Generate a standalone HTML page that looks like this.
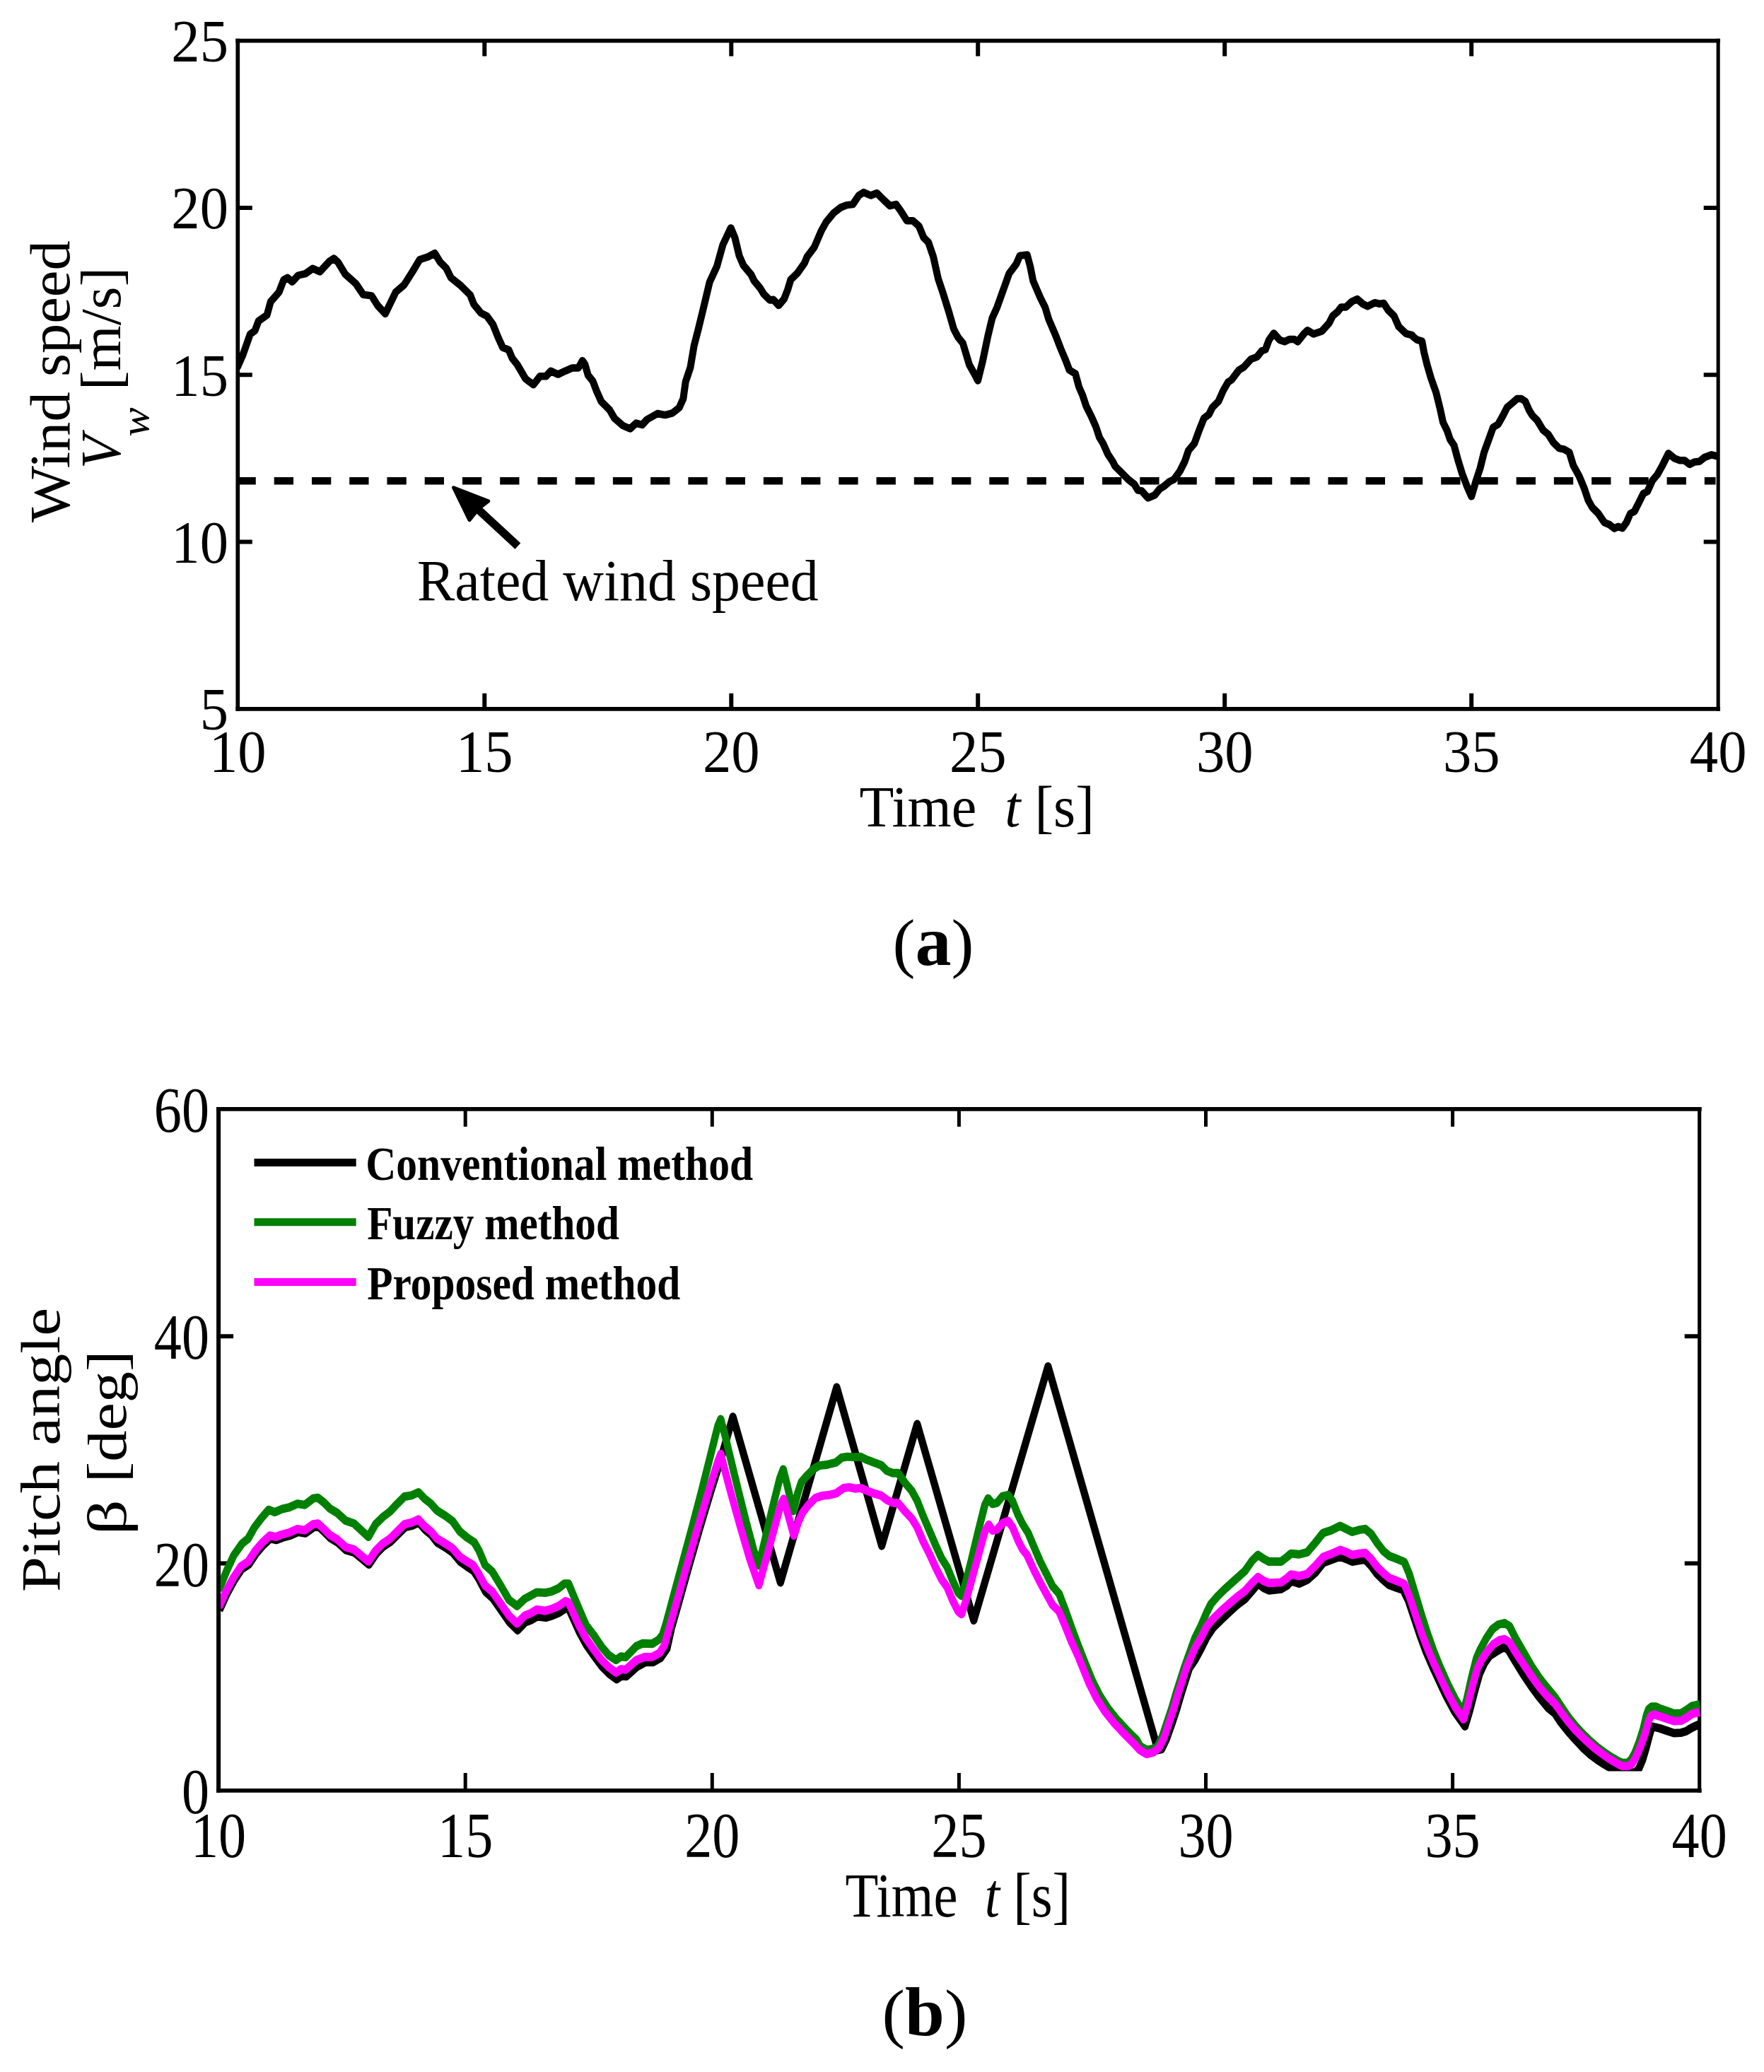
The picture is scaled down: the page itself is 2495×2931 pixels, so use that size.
<!DOCTYPE html>
<html lang="en"><head><meta charset="utf-8"><title>Wind speed and pitch angle</title>
<style>html,body{margin:0;padding:0;background:#fff}svg{display:block}</style>
</head><body>
<svg width="2495" height="2931" viewBox="0 0 2495 2931" font-family="'Liberation Serif', 'Times New Roman', serif" fill="#000">
<rect width="2495" height="2931" fill="#fff"/>
<defs>
<clipPath id="c1"><rect x="336.3" y="57.6" width="2093.9" height="945.2"/></clipPath>
<clipPath id="c2"><rect x="312.1" y="1568.9" width="2094.6" height="936.6"/></clipPath>
</defs>
<g id="chart-a">
<g clip-path="url(#c1)">
<line x1="334.5" y1="680.3" x2="2426.5" y2="680.3" stroke="#000" stroke-width="10.6" stroke-dasharray="27.3 25.94"/>
<polyline points="346.3,522.1 352.0,518.7 359.8,501.7 370.5,472.8 377.6,467.7 382.9,454.1 395.4,445.6 400.8,426.9 413.2,413.3 420.3,395.6 425.7,392.9 432.8,398.6 441.7,389.5 452.4,387.1 463.1,379.9 473.8,384.4 488.0,369.7 494.4,365.6 500.5,370.7 511.2,387.8 527.2,401.4 537.9,416.7 550.3,418.4 559.2,432.0 570.6,443.9 586.0,413.3 598.4,403.1 610.9,384.4 621.6,367.3 634.0,363.3 644.0,358.2 651.9,370.7 660.8,379.3 667.9,392.9 682.1,403.7 696.4,417.3 701.7,430.3 712.4,442.9 721.3,447.3 730.2,459.2 737.3,476.2 744.5,491.5 753.4,494.9 758.7,506.8 765.8,515.3 778.3,535.7 790.0,544.2 799.7,532.3 808.6,532.3 815.7,524.8 826.4,529.6 837.1,524.8 847.7,520.4 856.6,520.4 862.7,510.2 866.3,515.3 870.9,530.6 878.0,539.1 883.4,552.7 890.5,568.0 902.9,579.9 910.1,591.8 922.5,602.0 933.2,606.5 942.1,598.6 951.0,601.0 958.2,593.5 973.8,585.0 985.1,587.1 995.8,584.4 1005.8,576.9 1011.9,563.9 1015.4,540.1 1022.5,519.7 1027.9,489.1 1034.3,465.3 1042.1,434.7 1051.0,399.0 1061.7,376.9 1070.6,346.3 1082.4,322.4 1088.4,336.1 1094.8,361.6 1100.9,375.2 1112.7,388.8 1116.9,397.3 1125.8,407.5 1131.2,416.0 1140.1,424.5 1145.4,423.8 1153.3,432.0 1161.4,422.8 1166.8,409.2 1171.1,395.6 1181.0,386.4 1191.7,371.8 1195.3,363.3 1206.0,349.7 1216.7,325.9 1223.8,313.9 1234.5,301.4 1245.1,293.5 1254.1,290.1 1263.0,289.1 1271.9,276.5 1279.0,272.1 1289.7,276.5 1298.6,273.1 1309.3,283.3 1318.2,291.2 1327.1,289.1 1334.2,298.6 1343.1,312.2 1352.0,312.2 1360.9,319.7 1368.0,336.1 1375.1,342.9 1382.3,363.3 1389.4,393.9 1396.5,414.3 1405.4,441.5 1412.5,465.3 1419.0,477.2 1426.1,485.7 1435.7,516.3 1442.8,528.2 1448.2,538.4 1455.3,511.2 1463.1,475.5 1469.5,450.0 1476.7,434.7 1485.6,410.9 1494.5,387.1 1505.1,373.5 1510.5,361.6 1521.2,360.5 1525.8,376.9 1530.1,397.3 1540.8,421.1 1547.9,434.7 1553.2,451.7 1563.9,475.5 1570.7,492.5 1578.4,509.9 1583.8,523.5 1592.7,528.6 1598.0,547.3 1603.4,559.2 1608.7,574.5 1615.8,588.1 1623.0,603.4 1628.3,618.7 1633.7,627.2 1640.8,642.5 1647.9,652.7 1651.5,659.5 1660.4,668.0 1671.0,678.2 1680.0,685.0 1685.3,693.5 1690.6,694.2 1700.3,704.4 1710.2,700.3 1717.3,691.8 1724.5,687.4 1731.6,681.6 1738.7,678.2 1747.6,666.3 1754.7,652.7 1760.1,637.4 1769.0,627.2 1776.1,608.5 1783.2,591.5 1790.4,586.4 1795.7,576.2 1804.6,567.7 1811.7,552.4 1818.9,540.5 1824.2,537.1 1834.9,523.5 1842.0,519.4 1852.7,508.2 1861.6,504.8 1868.7,496.3 1874.1,494.6 1879.4,481.0 1886.5,471.4 1895.4,481.0 1902.6,483.3 1909.7,479.9 1916.8,479.9 1922.1,483.3 1931.0,472.4 1936.4,467.3 1945.3,472.4 1957.8,468.4 1968.4,457.1 1973.8,446.9 1980.9,441.2 1986.3,434.4 1993.4,434.4 2002.3,426.5 2010.1,423.1 2018.3,429.9 2025.4,433.3 2036.1,428.2 2043.2,429.9 2049.3,428.9 2055.7,438.4 2064.6,446.9 2071.7,462.2 2082.4,471.8 2091.3,474.1 2092.7,476.1 2098.6,480.6 2106.0,482.6 2109.0,498.2 2113.4,515.2 2119.4,535.0 2126.8,554.9 2132.7,577.6 2137.2,597.4 2143.1,608.7 2147.6,621.5 2153.5,630.0 2159.5,651.2 2165.4,669.7 2172.8,688.1 2179.3,702.3 2186.2,679.6 2192.1,662.6 2198.0,639.9 2205.5,620.1 2211.4,604.5 2218.8,600.2 2226.2,587.5 2232.2,576.1 2241.1,569.0 2247.0,563.9 2252.9,563.9 2258.9,567.6 2264.8,580.4 2269.3,587.5 2276.7,594.6 2285.6,608.7 2293.0,614.4 2300.4,625.7 2309.3,634.2 2316.8,635.7 2324.2,639.9 2330.1,658.3 2339.0,673.9 2346.4,690.9 2352.4,707.9 2358.3,717.9 2367.2,726.4 2376.1,739.1 2383.5,742.0 2391.0,747.6 2396.9,744.8 2402.8,747.1 2408.8,739.1 2414.7,726.4 2420.6,723.5 2428.1,709.4 2434.0,698.0 2439.9,695.2 2447.4,679.6 2454.8,671.1 2462.2,658.3 2471.1,641.3 2480.0,648.4 2487.4,651.2 2494.8,651.2 2502.3,656.9 2509.7,653.5 2517.1,652.7 2524.5,647.0 2534.9,643.3 2544.4,645.6" fill="none" stroke="#000" stroke-width="10.5" stroke-linejoin="round" stroke-linecap="butt" transform="scale(0.955,1)"/>
</g>
<path d="M333.45,57.6H2433.05M333.45,1002.8H2433.05" stroke="#000" stroke-width="5.8" fill="none"/>
<path d="M336.3,54.70V1005.70" stroke="#000" stroke-width="5.7" fill="none"/>
<path d="M2430.2,54.70V1005.70" stroke="#000" stroke-width="5.1" fill="none"/>
<path d="M685.3,1002.8v-22M685.3,57.6v22M1034.3,1002.8v-22M1034.3,57.6v22M1383.2,1002.8v-22M1383.2,57.6v22M1732.2,1002.8v-22M1732.2,57.6v22M2081.2,1002.8v-22M2081.2,57.6v22" stroke="#000" stroke-width="6" fill="none"/>
<path d="M336.3,766.5h20.5M2430.2,766.5h-20.5M336.3,530.2h20.5M2430.2,530.2h-20.5M336.3,293.9h20.5M2430.2,293.9h-20.5" stroke="#000" stroke-width="6" fill="none"/>
<line x1="732.4" y1="772.4" x2="674" y2="718.6" stroke="#000" stroke-width="11.5" stroke-linecap="butt"/>
<polygon points="641.6,689.8 690.7,708.9 677,719.5 664,735.6" fill="#000" stroke="#000" stroke-width="5" stroke-linejoin="round"/>
<text transform="translate(282.66,1032.30) scale(0.9492,1)" font-size="85" xml:space="preserve">5</text>
<text transform="translate(242.32,796.00) scale(0.9492,1)" font-size="85" xml:space="preserve">10</text>
<text transform="translate(242.32,559.70) scale(0.9492,1)" font-size="85" xml:space="preserve">15</text>
<text transform="translate(242.32,323.40) scale(0.9492,1)" font-size="85" xml:space="preserve">20</text>
<text transform="translate(242.32,87.10) scale(0.9492,1)" font-size="85" xml:space="preserve">25</text>
<text transform="translate(295.96,1091.50) scale(0.9492,1)" font-size="85" xml:space="preserve">10</text>
<text transform="translate(644.94,1091.50) scale(0.9492,1)" font-size="85" xml:space="preserve">15</text>
<text transform="translate(993.93,1091.50) scale(0.9492,1)" font-size="85" xml:space="preserve">20</text>
<text transform="translate(1342.91,1091.50) scale(0.9492,1)" font-size="85" xml:space="preserve">25</text>
<text transform="translate(1691.89,1091.50) scale(0.9492,1)" font-size="85" xml:space="preserve">30</text>
<text transform="translate(2040.88,1091.50) scale(0.9492,1)" font-size="85" xml:space="preserve">35</text>
<text transform="translate(2389.86,1091.50) scale(0.9492,1)" font-size="85" xml:space="preserve">40</text>
<text transform="translate(590.00,849.40) scale(0.9625,1)" font-size="83" fill="#000" xml:space="preserve">Rated wind speed</text>
<text transform="translate(1215.40,1169.40) scale(0.9630,1)" font-size="83" fill="#000" xml:space="preserve">Time  <tspan font-style="italic">t</tspan> [s]</text>
<text transform="translate(1262.46,1365.00) scale(1.0206,1)" font-size="100" fill="#000" xml:space="preserve"><tspan font-size="94.00">(</tspan><tspan font-weight="bold">a</tspan><tspan font-size="94.00">)</tspan></text>
<text transform="translate(97.90,739.00) rotate(-90) scale(1.0588,1)" font-size="80" fill="#000" xml:space="preserve">Wind speed</text>
<text transform="translate(170.00,663.09) rotate(-90) scale(0.9733,1)" font-size="80" fill="#000" xml:space="preserve"><tspan font-style="italic">V</tspan></text>
<text transform="translate(209.60,617.75) rotate(-90) scale(1.0698,1)" font-size="58" fill="#000" xml:space="preserve"><tspan font-style="italic">w</tspan></text>
<text transform="translate(169.80,551.88) rotate(-90) scale(1.0306,1)" font-size="80" fill="#000" xml:space="preserve">[m/s]</text>
</g>
<g id="chart-b">
<path d="M306.10,1568.9H2406.70M306.10,2532.9H2406.70" stroke="#000" stroke-width="5.8" fill="none"/>
<path d="M309.1,1566.00V2535.80" stroke="#000" stroke-width="6.0" fill="none"/>
<path d="M2403.7,1566.00V2535.80" stroke="#000" stroke-width="5.1" fill="none"/>
<path d="M658.2,2532.9v-24.9M658.2,1568.9v24.9M1007.3,2532.9v-24.9M1007.3,1568.9v24.9M1356.4,2532.9v-24.9M1356.4,1568.9v24.9M1705.5,2532.9v-24.9M1705.5,1568.9v24.9M2054.6,2532.9v-24.9M2054.6,1568.9v24.9" stroke="#000" stroke-width="5" fill="none"/>
<path d="M309.1,2211.6h21M2403.7,2211.6h-21M309.1,1890.2h21M2403.7,1890.2h-21" stroke="#000" stroke-width="6" fill="none"/>
<g clip-path="url(#c2)">
<polyline points="358.8,2277.8 371.3,2254.0 383.1,2235.3 394.9,2219.9 406.7,2213.1 418.5,2197.8 430.3,2185.9 442.1,2176.4 451.9,2178.4 461.8,2175.0 473.6,2172.3 487.3,2167.2 499.1,2168.9 512.9,2160.4 520.8,2159.4 530.6,2167.2 540.4,2175.7 552.2,2181.9 566.0,2192.7 579.7,2196.1 591.5,2204.6 603.3,2213.1 615.1,2197.8 626.9,2187.6 638.7,2180.8 650.5,2170.6 662.3,2160.4 674.1,2158.0 685.1,2153.7 695.7,2164.3 705.6,2171.5 715.4,2182.2 729.2,2189.5 741.0,2196.8 752.8,2209.2 764.6,2216.5 774.4,2222.0 782.3,2232.5 794.1,2251.7 805.8,2260.7 819.6,2277.9 833.4,2294.9 846.3,2306.1 858.9,2294.9 868.8,2291.5 878.6,2286.4 892.4,2288.1 902.2,2285.7 914.0,2281.3 925.8,2274.5 930.5,2276.2 937.6,2289.8 947.4,2308.5 959.2,2327.2 973.0,2344.2 984.8,2357.8 996.6,2368.0 1008.4,2375.5 1016.2,2370.7 1024.1,2371.4 1041.4,2357.8 1055.3,2351.4 1067.6,2351.4 1079.9,2345.5 1090.4,2332.4 1097.8,2303.5 1110.0,2266.3 1125.4,2218.6 1143.8,2162.8 1162.2,2109.7 1177.6,2067.2 1198.4,2004.1 1276.1,2238.5 1368.1,1962.4 1441.8,2186.7 1499.7,2014.5 1592.2,2292.1 1713.7,1932.9 1889.5,2463.7 1892.4,2475.6 1899.3,2474.3 1907.2,2460.3 1916.2,2438.2 1924.0,2417.8 1930.9,2397.4 1937.8,2378.7 1944.6,2360.0 1953.8,2348.4 1963.6,2332.8 1973.4,2315.8 1983.2,2303.1 1996.4,2291.7 2009.5,2281.0 2022.6,2270.5 2035.7,2262.0 2047.1,2250.6 2057.0,2240.1 2066.8,2246.4 2075.0,2249.8 2094.7,2247.8 2104.5,2243.0 2111.0,2236.5 2124.2,2240.1 2137.3,2235.0 2150.4,2225.1 2163.5,2210.9 2176.6,2206.7 2191.3,2201.9 2201.2,2205.3 2211.0,2209.0 2222.5,2207.3 2232.3,2206.1 2242.1,2215.2 2251.9,2226.5 2261.8,2235.0 2271.6,2242.1 2284.7,2246.4 2294.5,2249.2 2302.7,2263.4 2312.6,2288.9 2322.4,2314.4 2332.2,2337.1 2342.1,2356.9 2351.9,2375.3 2365.0,2399.4 2378.1,2420.7 2395.5,2442.0 2403.3,2419.3 2410.9,2393.8 2419.1,2368.3 2427.3,2352.7 2435.5,2342.7 2445.3,2337.1 2451.8,2333.7 2460.0,2330.0 2466.6,2334.2 2476.4,2348.4 2489.5,2366.8 2502.6,2383.8 2515.7,2399.4 2531.8,2416.4 2542.6,2423.9 2552.4,2436.8 2564.2,2449.4 2576.0,2461.0 2587.8,2472.0 2599.6,2481.4 2611.4,2489.0 2623.2,2495.8 2635.0,2501.8 2646.8,2506.9 2662.5,2508.2 2674.3,2506.9 2679.8,2501.8 2685.7,2489.9 2691.6,2472.9 2696.7,2455.9 2701.2,2442.2 2713.6,2444.8 2725.4,2448.2 2737.2,2451.6 2749.0,2451.1 2756.9,2449.0 2766.7,2443.9 2779.5,2438.8" fill="none" stroke="#000" stroke-width="11.9" stroke-linejoin="round" stroke-linecap="butt" transform="scale(0.865,1)"/>
<polyline points="357.8,2249.7 370.4,2222.4 382.2,2200.3 396.0,2183.3 405.8,2176.5 415.6,2161.2 427.4,2147.6 439.2,2135.7 449.1,2139.1 460.9,2134.7 472.7,2132.3 486.4,2127.2 498.2,2128.9 512.0,2119.7 519.8,2118.7 529.7,2125.5 539.5,2134.0 551.3,2140.1 565.1,2151.0 578.8,2155.1 590.6,2164.6 602.4,2174.1 614.2,2156.1 626.0,2145.9 637.8,2138.1 649.6,2127.2 661.4,2117.0 673.2,2115.3 684.2,2110.9 694.8,2120.4 704.7,2127.2 714.5,2136.7 728.2,2144.2 740.0,2151.7 751.8,2166.3 763.6,2174.8 775.4,2181.6 783.3,2193.5 793.1,2213.9 804.9,2223.1 818.7,2242.9 832.4,2263.3 845.4,2271.8 858.0,2261.6 867.8,2257.1 877.7,2252.4 891.4,2253.1 901.3,2251.4 913.1,2246.9 922.9,2240.1 929.6,2240.1 936.7,2254.8 946.5,2275.2 958.3,2299.0 972.0,2314.3 983.8,2329.6 995.6,2341.5 1007.4,2348.3 1015.3,2343.2 1023.2,2344.2 1040.5,2328.6 1051.1,2324.7 1066.4,2325.3 1077.2,2319.4 1083.3,2312.8 1089.5,2295.5 1100.2,2261.0 1115.5,2211.9 1130.9,2162.8 1146.2,2112.4 1161.6,2059.3 1173.9,2016.8 1178.5,2007.5 1184.6,2027.4 1195.3,2065.9 1207.6,2109.7 1219.9,2152.2 1232.2,2192.0 1240.8,2214.6 1250.6,2178.7 1262.9,2133.6 1275.1,2091.1 1280.7,2078.4 1285.9,2096.4 1297.2,2137.6 1304.3,2112.4 1310.4,2096.4 1319.6,2087.2 1330.4,2077.9 1339.6,2073.1 1351.9,2072.0 1367.2,2068.6 1376.4,2061.9 1385.6,2060.6 1397.9,2061.4 1407.1,2060.6 1416.3,2064.6 1428.6,2068.6 1440.9,2072.6 1450.1,2080.5 1459.3,2083.7 1468.5,2083.7 1479.8,2097.6 1490.6,2108.6 1499.7,2122.7 1508.8,2143.1 1519.7,2165.1 1530.5,2187.0 1539.6,2204.3 1548.7,2216.8 1557.7,2235.7 1566.8,2252.9 1572.2,2257.6 1579.5,2237.2 1588.6,2205.9 1599.4,2166.6 1610.3,2129.0 1615.8,2119.6 1623.0,2127.4 1630.3,2125.9 1639.3,2116.5 1648.4,2114.9 1655.7,2123.4 1664.7,2143.1 1672.0,2155.7 1681.0,2168.2 1690.1,2187.0 1701.0,2209.0 1711.9,2227.8 1720.9,2243.5 1731.8,2254.5 1740.9,2274.9 1751.8,2301.5 1762.6,2326.6 1775.5,2355.0 1785.9,2377.1 1797.7,2397.5 1811.5,2416.2 1827.2,2433.2 1842.9,2447.7 1858.7,2461.3 1864.4,2470.1 1875.3,2475.6 1886.1,2473.5 1892.4,2470.7 1900.3,2457.1 1908.2,2436.7 1916.0,2416.3 1922.9,2395.9 1929.8,2377.2 1936.7,2358.5 1953.8,2317.2 1963.6,2300.2 1973.4,2280.4 1980.0,2269.0 1989.8,2259.1 2002.9,2247.8 2019.3,2235.0 2035.7,2222.3 2047.1,2208.1 2057.0,2199.6 2066.8,2205.3 2075.0,2209.0 2094.7,2209.0 2104.5,2202.4 2111.0,2197.6 2124.2,2198.8 2137.3,2195.9 2150.4,2182.6 2163.5,2168.4 2176.6,2164.7 2191.3,2158.5 2201.2,2162.8 2211.0,2167.0 2222.5,2164.2 2232.3,2162.8 2242.1,2169.8 2251.9,2182.6 2261.8,2193.9 2271.6,2201.0 2284.7,2205.3 2296.2,2209.5 2304.4,2226.5 2314.2,2254.9 2324.0,2283.2 2333.9,2310.1 2343.7,2334.2 2353.5,2355.5 2366.6,2381.0 2379.7,2403.7 2392.9,2422.1 2398.8,2402.3 2406.0,2373.9 2414.2,2345.6 2420.7,2332.8 2430.5,2317.2 2440.4,2304.5 2450.2,2298.0 2460.0,2296.0 2468.2,2300.2 2478.1,2317.2 2491.2,2337.1 2504.3,2356.9 2517.4,2373.9 2531.8,2389.5 2542.6,2400.6 2552.4,2413.3 2564.2,2428.6 2576.0,2441.4 2587.8,2452.4 2599.6,2462.3 2611.4,2471.2 2623.2,2478.8 2635.0,2485.6 2646.8,2491.6 2652.7,2493.6 2661.5,2493.6 2667.4,2489.0 2673.3,2479.7 2680.2,2464.4 2687.1,2445.6 2692.0,2426.9 2695.9,2417.6 2700.8,2414.2 2707.7,2414.2 2713.6,2416.7 2725.4,2420.1 2737.2,2423.9 2749.0,2423.5 2756.9,2419.3 2766.7,2413.3 2779.5,2410.8" fill="none" stroke="#008000" stroke-width="11.9" stroke-linejoin="round" stroke-linecap="butt" transform="scale(0.865,1)"/>
<polyline points="357.8,2273.5 370.4,2249.7 382.2,2231.0 394.0,2215.6 405.8,2208.8 417.6,2193.5 429.4,2181.6 441.2,2172.1 451.0,2174.1 460.9,2170.7 472.7,2168.0 486.4,2162.9 498.2,2164.6 512.0,2156.1 519.8,2155.1 529.7,2162.9 539.5,2171.4 551.3,2177.6 565.1,2188.4 578.8,2191.8 590.6,2200.3 602.4,2208.8 614.2,2193.5 626.0,2183.3 637.8,2176.5 649.6,2166.3 661.4,2156.1 673.2,2153.7 684.2,2149.3 694.8,2159.5 704.7,2166.3 714.5,2176.5 728.2,2183.3 740.0,2190.1 751.8,2202.0 763.6,2208.8 773.5,2213.9 781.3,2224.1 793.1,2242.9 804.9,2251.4 818.7,2268.4 832.4,2285.4 845.4,2296.6 858.0,2285.4 867.8,2282.0 877.7,2276.9 891.4,2278.6 901.3,2276.2 913.1,2271.8 924.9,2265.0 929.6,2266.7 936.7,2280.3 946.5,2299.0 958.3,2317.7 972.0,2334.7 983.8,2348.3 995.6,2358.5 1007.4,2366.0 1015.3,2361.2 1023.2,2361.9 1040.5,2348.3 1054.2,2343.9 1066.4,2343.9 1078.7,2338.0 1086.4,2327.4 1094.1,2303.5 1106.3,2266.3 1121.7,2218.6 1140.1,2162.8 1158.5,2109.7 1173.9,2067.2 1178.5,2056.6 1183.1,2072.6 1195.3,2112.4 1210.7,2160.2 1226.0,2205.3 1240.8,2242.4 1253.6,2202.6 1265.9,2162.8 1276.7,2128.3 1281.3,2120.3 1287.4,2138.9 1298.1,2172.1 1305.8,2152.2 1312.0,2140.2 1321.2,2129.6 1333.4,2119.0 1345.7,2115.6 1354.9,2115.0 1367.2,2112.4 1379.5,2104.9 1388.7,2103.9 1397.9,2105.7 1407.1,2104.9 1416.3,2108.4 1428.6,2112.4 1440.9,2115.6 1450.1,2121.7 1459.3,2125.6 1468.5,2126.2 1479.8,2137.8 1490.6,2147.8 1499.7,2160.4 1508.8,2179.2 1519.7,2198.0 1530.5,2218.4 1539.6,2234.1 1548.7,2245.1 1557.7,2263.9 1566.8,2279.6 1572.2,2283.3 1579.5,2263.9 1588.6,2235.7 1599.4,2201.2 1610.3,2166.6 1616.9,2156.6 1623.0,2165.1 1630.3,2163.5 1639.3,2154.7 1648.4,2151.6 1655.7,2160.4 1664.7,2179.2 1672.0,2191.7 1679.2,2199.6 1690.1,2220.0 1701.0,2238.8 1711.9,2256.1 1720.9,2270.2 1731.8,2279.6 1740.9,2298.4 1751.8,2321.9 1762.6,2342.3 1770.9,2360.0 1781.3,2382.1 1793.1,2402.5 1806.8,2421.2 1822.6,2438.2 1838.3,2452.7 1854.0,2466.3 1863.9,2475.6 1874.7,2481.1 1885.5,2479.0 1895.3,2472.2 1903.2,2458.6 1911.1,2438.2 1918.9,2417.8 1925.8,2397.4 1932.7,2378.7 1939.6,2360.0 1953.8,2331.4 1963.6,2317.2 1973.4,2300.2 1983.2,2290.3 1996.4,2279.0 2009.5,2269.0 2022.6,2259.1 2035.7,2250.6 2047.1,2239.3 2057.0,2230.8 2066.8,2236.5 2075.0,2239.3 2094.7,2238.4 2104.5,2232.2 2111.0,2227.1 2124.2,2229.4 2137.3,2226.5 2150.4,2215.2 2163.5,2202.4 2176.6,2198.2 2191.3,2192.5 2201.2,2195.4 2211.0,2199.6 2222.5,2197.6 2232.3,2196.8 2242.1,2205.3 2251.9,2216.6 2261.8,2225.1 2271.6,2232.2 2284.7,2236.5 2296.2,2240.7 2304.4,2257.7 2314.2,2283.2 2324.0,2308.7 2333.9,2331.4 2343.7,2351.2 2353.5,2369.7 2366.6,2393.8 2379.7,2415.0 2392.9,2432.0 2399.4,2413.6 2407.6,2385.3 2415.8,2359.8 2422.3,2348.4 2432.2,2335.7 2442.0,2325.7 2451.8,2320.1 2460.0,2318.7 2468.2,2322.9 2478.1,2337.1 2491.2,2354.1 2504.3,2371.1 2517.4,2386.7 2531.8,2400.9 2542.6,2409.9 2552.4,2421.8 2564.2,2435.4 2576.0,2447.3 2587.8,2457.6 2599.6,2466.9 2611.4,2475.4 2623.2,2483.1 2635.0,2489.9 2646.8,2495.8 2652.7,2498.4 2662.5,2498.4 2668.4,2495.0 2674.3,2486.5 2682.2,2471.2 2690.0,2452.4 2695.9,2433.7 2699.9,2426.9 2704.8,2425.2 2713.6,2427.8 2725.4,2431.2 2737.2,2434.6 2749.0,2434.1 2756.9,2430.3 2766.7,2424.4 2779.5,2421.8" fill="none" stroke="#ff00ff" stroke-width="11.9" stroke-linejoin="round" stroke-linecap="butt" transform="scale(0.865,1)"/>
</g>
<text transform="translate(256.90,2564.90) scale(0.8593,1)" font-size="91" xml:space="preserve">0</text>
<text transform="translate(217.81,2243.57) scale(0.8593,1)" font-size="91" xml:space="preserve">20</text>
<text transform="translate(217.81,1922.23) scale(0.8593,1)" font-size="91" xml:space="preserve">40</text>
<text transform="translate(217.81,1600.90) scale(0.8593,1)" font-size="91" xml:space="preserve">60</text>
<text transform="translate(270.00,2626.50) scale(0.8593,1)" font-size="91" xml:space="preserve">10</text>
<text transform="translate(619.10,2626.50) scale(0.8593,1)" font-size="91" xml:space="preserve">15</text>
<text transform="translate(968.20,2626.50) scale(0.8593,1)" font-size="91" xml:space="preserve">20</text>
<text transform="translate(1317.30,2626.50) scale(0.8593,1)" font-size="91" xml:space="preserve">25</text>
<text transform="translate(1666.40,2626.50) scale(0.8593,1)" font-size="91" xml:space="preserve">30</text>
<text transform="translate(2015.50,2626.50) scale(0.8593,1)" font-size="91" xml:space="preserve">35</text>
<text transform="translate(2364.60,2626.50) scale(0.8593,1)" font-size="91" xml:space="preserve">40</text>
<text transform="translate(1195.46,2710.50) scale(0.8610,1)" font-size="89" fill="#000" xml:space="preserve">Time  <tspan font-style="italic">t</tspan> [s]</text>
<text transform="translate(1247.53,2878.50) scale(1.0360,1)" font-size="97" fill="#000" xml:space="preserve"><tspan font-size="94.09">(</tspan><tspan font-weight="bold">b</tspan><tspan font-size="94.09">)</tspan></text>
<line x1="359.5" y1="1644.5" x2="503.7" y2="1644.5" stroke="#000" stroke-width="11"/>
<line x1="359.5" y1="1728.7" x2="503.7" y2="1728.7" stroke="#008000" stroke-width="11"/>
<line x1="359.5" y1="1813.6" x2="503.7" y2="1813.6" stroke="#ff00ff" stroke-width="11"/>
<text transform="translate(517.22,1669.00) scale(0.8700,1)" font-size="68.5" fill="#000" xml:space="preserve"><tspan font-weight="bold">Conventional method</tspan></text>
<text transform="translate(519.16,1753.10) scale(0.8641,1)" font-size="68.5" fill="#000" xml:space="preserve"><tspan font-weight="bold">Fuzzy method</tspan></text>
<text transform="translate(519.16,1838.10) scale(0.8679,1)" font-size="68.5" fill="#000" xml:space="preserve"><tspan font-weight="bold">Proposed method</tspan></text>
<text transform="translate(83.90,2252.10) rotate(-90) scale(1.1611,1)" font-size="77.5" fill="#000" xml:space="preserve">Pitch angle</text>
<text transform="translate(178.40,2171.26) rotate(-90) scale(1.2631,1)" font-size="77.5" fill="#000" xml:space="preserve">β</text>
<text transform="translate(178.40,2097.34) rotate(-90) scale(1.1421,1)" font-size="77.5" fill="#000" xml:space="preserve">[deg]</text>
</g>
</svg>
</body></html>
